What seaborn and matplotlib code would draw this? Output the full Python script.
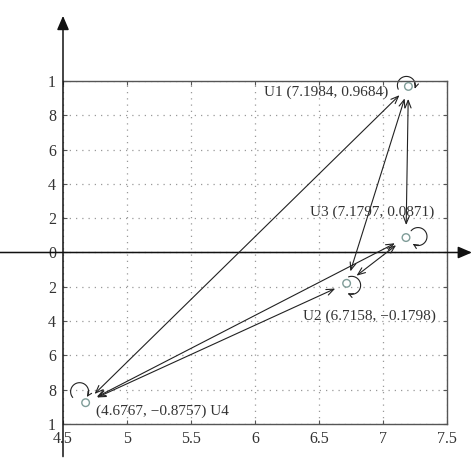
import numpy as np
import pandas as pd
import matplotlib
matplotlib.use("Agg")
import matplotlib.pyplot as plt
import matplotlib.transforms as mtransforms
from matplotlib.path import Path
from matplotlib.patches import FancyArrowPatch
import seaborn as sns

# data
nodes = ["U1", "U2", "U3", "U4"]
node_x = [7.1984, 6.7158, 7.1797, 4.6767]
node_y = [0.9684, -0.1798, 0.0871, -0.8757]
edges = [("U1", "U4"), ("U1", "U2"), ("U1", "U3"), ("U3", "U2"), ("U3", "U4"), ("U2", "U4")]
x_ticks = [4.5, 5, 5.5, 6, 6.5, 7, 7.5]
x_tick_labels = ["4.5", "5", "5.5", "6", "6.5", "7", "7.5"]
y_ticks = [-1, -0.8, -0.6, -0.4, -0.2, 0, 0.2, 0.4, 0.6, 0.8, 1]
y_tick_labels = ["1", "8", "6", "4", "2", "0", "2", "4", "6", "8", "1"]

sns.set_theme(style="white")
plt.rcParams["font.family"] = ["Liberation Serif", "DejaVu Serif"]

df = pd.DataFrame({"node": nodes, "x": node_x, "y": node_y})
pos = {n: (x, y) for n, x, y in zip(nodes, node_x, node_y)}

fig = plt.figure(figsize=(4.74, 4.74), dpi=100)
ax = fig.add_axes([63 / 474, 50 / 474, 384 / 474, 343 / 474])

axis_col = "#555555"
txt_col = "#333333"
line_col = "#222222"

ax.set_xlim(4.5, 7.5)
ax.set_ylim(-1, 1)
ax.set_xticks(x_ticks)
ax.set_xticklabels(x_tick_labels)
ax.set_yticks(y_ticks)
ax.set_yticklabels(y_tick_labels)
ax.tick_params(direction="in", length=3, width=0.8, color=axis_col, labelsize=11.5,
               labelcolor=txt_col, top=True, right=True, left=True, bottom=True,
               labeltop=False, labelright=False, pad=5)
ax.grid(True, color="#999999", linestyle=(0, (1, 4)), linewidth=0.9)
for s in ["top", "right", "bottom"]:
    ax.spines[s].set_color(axis_col)
    ax.spines[s].set_linewidth(1.0)
ax.spines["left"].set_visible(False)

# axis lines with arrows
ax.annotate("", xy=(1.065, 0), xycoords=("axes fraction", "data"),
            xytext=(-0.17, 0), textcoords=("axes fraction", "data"),
            arrowprops=dict(arrowstyle="-|>,head_length=0.7,head_width=0.3",
                            color="#111111", lw=1.1, shrinkA=0, shrinkB=0),
            annotation_clip=False)
ax.annotate("", xy=(4.5, 1.19), xycoords=("data", "axes fraction"),
            xytext=(4.5, -0.095), textcoords=("data", "axes fraction"),
            arrowprops=dict(arrowstyle="-|>,head_length=0.7,head_width=0.3",
                            color="#111111", lw=1.1, shrinkA=0, shrinkB=0),
            annotation_clip=False)

# edges
for a, b in edges:
    ax.annotate("", xy=pos[b], xytext=pos[a],
                arrowprops=dict(arrowstyle="<->,head_length=0.45,head_width=0.18",
                                color=line_col, lw=0.8, shrinkA=9, shrinkB=9))

# self loops (center offset px, radius px, start angle, end angle)
loops = {"U1": ((-2, 1), 9, 205, -20),
         "U2": ((5, -2), 9, 110, -115),
         "U3": ((12, 1), 9, 140, -125),
         "U4": ((-6, 11), 9, 220, -35)}
for n, ((cx, cy), r, t1, t2) in loops.items():
    tr = fig.dpi_scale_trans + mtransforms.ScaledTranslation(pos[n][0], pos[n][1], ax.transData)
    t = np.radians(np.linspace(t1, t2, 40))
    verts = np.column_stack([(cx + r * np.cos(t)) / 100, (cy + r * np.sin(t)) / 100])
    p = FancyArrowPatch(path=Path(verts), arrowstyle="->,head_length=3,head_width=1.5",
                        color=line_col, lw=0.8, transform=tr, clip_on=False)
    ax.add_patch(p)

sns.scatterplot(data=df, x="x", y="y", ax=ax, s=30, facecolor="none",
                edgecolor="#7f9c98", linewidth=1.0, legend=False, zorder=5, clip_on=False)
ax.set_xlabel("")
ax.set_ylabel("")


def fmt(v):
    return f"{v:.4f}".replace("-", "\u2212")


labels = {"U1": (f"U1 ({fmt(pos['U1'][0])}, {fmt(pos['U1'][1])})", (-20, -6), "right"),
          "U2": (f"U2 ({fmt(pos['U2'][0])}, {fmt(pos['U2'][1])})", (89, -33), "right"),
          "U3": (f"U3 ({fmt(pos['U3'][0])}, {fmt(pos['U3'][1])})", (28, 25), "right"),
          "U4": (f"({fmt(pos['U4'][0])}, {fmt(pos['U4'][1])}) U4", (10, -9), "left")}
for n, (s, off, ha) in labels.items():
    ax.annotate(s, xy=pos[n], xytext=off, textcoords="offset pixels",
                ha=ha, va="center", fontsize=11, color=txt_col)

fig.savefig("out.png", dpi=100)
